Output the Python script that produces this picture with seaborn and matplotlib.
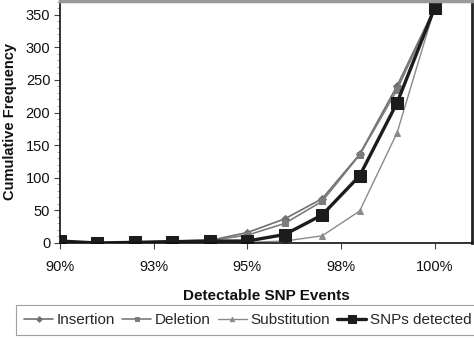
import matplotlib
matplotlib.use("Agg")
import matplotlib.pyplot as plt
from matplotlib.ticker import MultipleLocator
import pandas as pd
import seaborn as sns

# Share of detectable SNP events (%)
detectable = [90, 91, 92, 93, 94, 95, 96, 97, 98, 99, 100]

insertion = [3, 0, 1, 3, 4, 16, 37, 68, 136, 241, 360]
deletion = [3, 0, 1, 3, 4, 12, 30, 64, 135, 235, 360]
substitution = [2, 0, 1, 2, 3, 1, 3, 11, 49, 169, 360]
snps_detected = [3, 0, 1, 2, 3, 3, 13, 43, 103, 215, 360]

tick_values = [90, 92.5, 95, 97.5, 100]
tick_labels = ["90%", "93%", "95%", "98%", "100%"]

series = {
    "Insertion": insertion,
    "Deletion": deletion,
    "Substitution": substitution,
    "SNPs detected": snps_detected,
}
df = pd.DataFrame(
    [(name, x, y) for name, vals in series.items() for x, y in zip(detectable, vals)],
    columns=["series", "detectable", "frequency"],
)

sns.set_theme(style="white")
plt.rcParams["font.family"] = ["Liberation Sans", "DejaVu Sans"]

styles = {
    "Insertion": dict(color="#707070", marker="D", markersize=4, linewidth=1.2),
    "Deletion": dict(color="#7c7c7c", marker="s", markersize=4.5, linewidth=1.2),
    "Substitution": dict(color="#8a8a8a", marker="^", markersize=4.5, linewidth=1.0),
    "SNPs detected": dict(color="#1c1c1c", marker="s", markersize=8, linewidth=2.4),
}

fig = plt.figure(figsize=(4.74, 3.39), dpi=100)
ax = fig.add_axes([60 / 474, 1 - 243 / 339, 412 / 474, 242 / 339])

for name in series:
    st = styles[name]
    sns.lineplot(
        data=df[df["series"] == name], x="detectable", y="frequency",
        ax=ax, label=name, color=st["color"], marker=st["marker"],
        markersize=st["markersize"], linewidth=st["linewidth"],
        markeredgecolor=st["color"], markerfacecolor=st["color"],
        legend=False,
    )

ax.set_xlim(90, 101)
ax.set_ylim(0, 371)
ax.set_xticks(tick_values)
ax.set_xticklabels(tick_labels)
ax.yaxis.set_major_locator(MultipleLocator(50))
ax.yaxis.set_minor_locator(MultipleLocator(10))

ax.tick_params(axis="both", which="major", direction="out", length=4, width=0.8,
               color="#444444", labelsize=10.5, labelcolor="#111111", pad=3)
ax.tick_params(axis="x", which="major", pad=8)
ax.tick_params(axis="y", which="minor", direction="out", length=2, width=0.6,
               color="#999999", left=True)
ax.tick_params(axis="x", bottom=True)
ax.tick_params(axis="y", left=True)

for side in ["left", "bottom"]:
    ax.spines[side].set_color("#111111")
    ax.spines[side].set_linewidth(1.2)
ax.spines["top"].set_color("#999999")
ax.spines["top"].set_linewidth(2.5)
ax.spines["right"].set_color("#222222")
ax.spines["right"].set_linewidth(2.0)

ax.set_xlabel("Detectable SNP Events", fontsize=11, fontweight="bold",
              color="#111111", labelpad=11)
ax.set_ylabel("Cumulative Frequency", fontsize=10.5, fontweight="bold",
              color="#111111", labelpad=6)

handles, labels = ax.get_legend_handles_labels()
leg = fig.legend(handles, labels, loc="center", bbox_to_anchor=(248 / 474, 1 - 320 / 339),
                 ncol=4, fontsize=11, frameon=True, fancybox=False,
                 handlelength=1.9, handletextpad=0.25, columnspacing=0.45,
                 borderpad=0.55, borderaxespad=0, markerscale=0.7)
leg.get_frame().set_edgecolor("#888888")
leg.get_frame().set_linewidth(0.8)

fig.savefig("out.png", dpi=100)
